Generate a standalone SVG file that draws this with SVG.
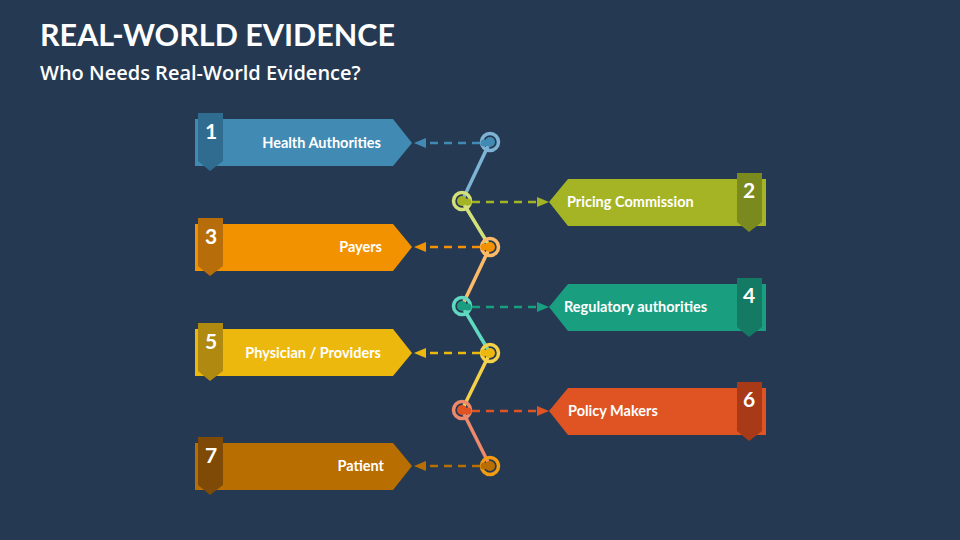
<svg xmlns="http://www.w3.org/2000/svg" width="960" height="540" viewBox="0 0 960 540">
<style>
.t{font-family:Lato,"Open Sans",sans-serif;font-weight:bold;fill:#fff}
.lbl{font-size:14.5px}
.num{font-size:21px;text-anchor:middle}
.d{stroke-width:2.5;stroke-dasharray:8 6;fill:none}
.lk{stroke-width:3.5;fill:none}
</style>
<rect width="960" height="540" fill="#253A52"/>
<text class="t" x="40" y="46" font-size="30.5">REAL-WORLD EVIDENCE</text>
<text x="40" y="80" font-size="20" fill="#fff" font-family="'Open Sans',sans-serif" font-weight="600">Who Needs Real-World Evidence?</text>
<g id="connectors">
<line class="lk" x1="490" y1="142" x2="462" y2="201" stroke="#7FB3D5"/>
<line class="lk" x1="462" y1="201" x2="490" y2="247" stroke="#D4E07A"/>
<line class="lk" x1="490" y1="247" x2="462" y2="306" stroke="#FDBB6A"/>
<line class="lk" x1="462" y1="306" x2="490" y2="353" stroke="#5FD9C0"/>
<line class="lk" x1="490" y1="353" x2="462" y2="410" stroke="#F5D04A"/>
<line class="lk" x1="462" y1="410" x2="490" y2="466" stroke="#EE8A6B"/>
<line class="d" x1="480" y1="143" x2="424" y2="143" stroke="#418AB3"/><polygon points="414,143 426,138 426,148" fill="#418AB3"/>
<line class="d" x1="472" y1="202" x2="538" y2="202" stroke="#A5B424"/><polygon points="549,202 537,197 537,207" fill="#A5B424"/>
<line class="d" x1="480" y1="247" x2="424" y2="247" stroke="#F39200"/><polygon points="414,247 426,242 426,252" fill="#F39200"/>
<line class="d" x1="472" y1="307" x2="538" y2="307" stroke="#1A9E80"/><polygon points="549,307 537,302 537,312" fill="#1A9E80"/>
<line class="d" x1="480" y1="353" x2="424" y2="353" stroke="#EDB80E"/><polygon points="414,353 426,348 426,358" fill="#EDB80E"/>
<line class="d" x1="472" y1="411" x2="538" y2="411" stroke="#E05323"/><polygon points="549,411 537,406 537,416" fill="#E05323"/>
<line class="d" x1="480" y1="466" x2="424" y2="466" stroke="#B86E00"/><polygon points="414,466 426,461 426,471" fill="#B86E00"/>
</g>
<g id="dots">
<g><circle cx="490" cy="142" r="8.5" fill="none" stroke="#7FB3D5" stroke-width="3.5"/><circle cx="490" cy="142" r="5" fill="#418AB3"/><circle cx="484" cy="143" r="3.5" fill="#418AB3"/></g>
<g><circle cx="462" cy="201" r="8.5" fill="none" stroke="#D4E07A" stroke-width="3.5"/><circle cx="462" cy="201" r="5" fill="#A5B424"/><circle cx="468" cy="202" r="3.5" fill="#A5B424"/></g>
<g><circle cx="490" cy="247" r="8.5" fill="none" stroke="#FDBB6A" stroke-width="3.5"/><circle cx="490" cy="247" r="5" fill="#F39200"/><circle cx="484" cy="247" r="3.5" fill="#F39200"/></g>
<g><circle cx="462" cy="306" r="8.5" fill="none" stroke="#5FD9C0" stroke-width="3.5"/><circle cx="462" cy="306" r="5" fill="#1A9E80"/><circle cx="468" cy="307" r="3.5" fill="#1A9E80"/></g>
<g><circle cx="490" cy="353" r="8.5" fill="none" stroke="#F5D04A" stroke-width="3.5"/><circle cx="490" cy="353" r="5" fill="#EDB80E"/><circle cx="484" cy="353" r="3.5" fill="#EDB80E"/></g>
<g><circle cx="462" cy="410" r="8.5" fill="none" stroke="#EE8A6B" stroke-width="3.5"/><circle cx="462" cy="410" r="5" fill="#E05323"/><circle cx="468" cy="411" r="3.5" fill="#E05323"/></g>
<g><circle cx="490" cy="466" r="8.5" fill="none" stroke="#F39C12" stroke-width="3.5"/><circle cx="490" cy="466" r="5" fill="#B86E00"/><circle cx="484" cy="466" r="3.5" fill="#B86E00"/></g>
</g>
<g id="n1"><polygon points="195,119 393,119 412,143 393,166 195,166" fill="#418AB3"/><polygon points="198,113 223,113 223,161 210,171 198,161" fill="#2F6C8F"/><text class="t num" x="211" y="139">1</text><text class="t lbl" x="381" y="148" text-anchor="end">Health Authorities</text></g>
<g id="n2"><polygon points="766,179 568,179 549,202 568,226 766,226" fill="#A5B424"/><polygon points="737,173 762,173 762,222 749,232 737,222" fill="#7B8A1E"/><text class="t num" x="749" y="198">2</text><text class="t lbl" x="567" y="207">Pricing Commission</text></g>
<g id="n3"><polygon points="195,224 393,224 412,247 393,271 195,271" fill="#F39200"/><polygon points="198,218 223,218 223,266 210,276 198,266" fill="#B76E0A"/><text class="t num" x="211" y="244">3</text><text class="t lbl" x="382" y="252" text-anchor="end">Payers</text></g>
<g id="n4"><polygon points="766,284 568,284 549,307 568,331 766,331" fill="#1A9E80"/><polygon points="737,278 762,278 762,327 749,337 737,327" fill="#157A63"/><text class="t num" x="749" y="303">4</text><text class="t lbl" x="564" y="312">Regulatory authorities</text></g>
<g id="n5"><polygon points="195,329 393,329 412,353 393,376 195,376" fill="#EDB80E"/><polygon points="198,323 223,323 223,371 210,381 198,371" fill="#B08A10"/><text class="t num" x="211" y="349">5</text><text class="t lbl" x="381" y="358" text-anchor="end">Physician / Providers</text></g>
<g id="n6"><polygon points="766,388 568,388 549,411 568,435 766,435" fill="#E05323"/><polygon points="737,382 762,382 762,431 749,441 737,431" fill="#A93A17"/><text class="t num" x="749" y="407">6</text><text class="t lbl" x="568" y="416">Policy Makers</text></g>
<g id="n7"><polygon points="195,443 393,443 412,466 393,490 195,490" fill="#B86E00"/><polygon points="198,437 223,437 223,485 210,495 198,485" fill="#7F4A05"/><text class="t num" x="211" y="463">7</text><text class="t lbl" x="384" y="471" text-anchor="end">Patient</text></g>
</svg>
